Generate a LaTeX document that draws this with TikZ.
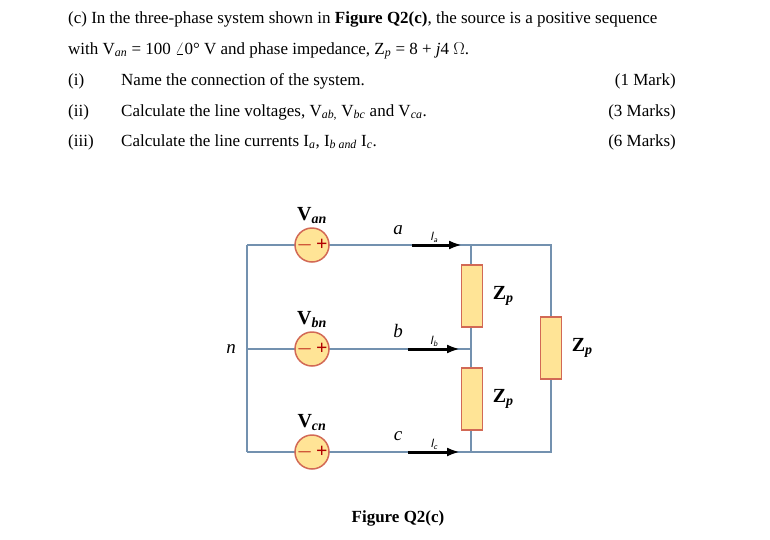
\documentclass[tikz,border=0pt]{standalone}
\usepackage{fontspec}
\setmainfont{Liberation Serif}
\usetikzlibrary{positioning, arrows.meta}
\definecolor{wire}{RGB}{115,145,175}
\definecolor{srcfill}{RGB}{255,228,150}
\definecolor{srcdraw}{RGB}{210,105,85}
\tikzset{
  txt/.style={anchor=base west, inner sep=0pt, font=\fontsize{17}{20}\selectfont},
  marks/.style={anchor=base east, inner sep=0pt, font=\fontsize{17}{20}\selectfont},
  source/.style={circle, draw=srcdraw, fill=srcfill, line width=1.5pt, minimum size=34pt, inner sep=0pt, font=\bfseries\fontsize{20}{20}\selectfont, text=red!70!black},
  imp/.style={rectangle, draw=srcdraw, fill=srcfill, line width=1.5pt, minimum width=21pt, minimum height=62pt, inner sep=0pt},
  line/.style={draw=wire, line width=1.6pt},
  current/.style={-{Latex[length=13pt,width=9pt]}, line width=3pt, black},
  vlabel/.style={font=\bfseries\fontsize{20}{20}\selectfont},
  ilabel/.style={font=\sffamily\itshape\fontsize{12}{12}\selectfont},
  nlabel/.style={font=\itshape\fontsize{19}{19}\selectfont}
}
\begin{document}
\begin{tikzpicture}[x=1pt, y=-1pt]
\useasboundingbox (0,0) rectangle (770,539);
% question text
\node[txt] (q1) at (68,23) {(c) In the three-phase system shown in \textbf{Figure Q2(c)}, the source is a positive sequence};
\node[txt] (q2) at (68,54) {with V\textsubscript{\textit{an}} = 100 $\angle$0° V and phase impedance, Z\textsubscript{\textit{p}} = 8 + \textit{j}4 $\Omega$.};
\node[txt] (i1) at (68,85) {(i)};
\node[txt] (t1) at (121,85) {Name the connection of the system.};
\node[marks] (m1) at (676,85) {(1 Mark)};
\node[txt] (i2) at (68,116) {(ii)};
\node[txt] (t2) at (121,116) {Calculate the line voltages, V\textsubscript{\textit{ab},} V\textsubscript{\textit{bc}} and V\textsubscript{\textit{ca}}.};
\node[marks] (m2) at (676,116) {(3 Marks)};
\node[txt] (i3) at (68,146) {(iii)};
\node[txt] (t3) at (121,146) {Calculate the line currents I\textsubscript{\textit{a}}, I\textsubscript{\textit{b and}} I\textsubscript{\textit{c}}.};
\node[marks] (m3) at (676,146) {(6 Marks)};

% circuit corners
\coordinate (na) at (247,245);
\coordinate (nb) at (247,349);
\coordinate (nc) at (247,452);
\coordinate (ja) at (471,245);
\coordinate (jb) at (471,349);
\coordinate (jc) at (471,452);
\coordinate (ra) at (551,245);
\coordinate (rc) at (551,452);

% wires behind the parts
\draw[line] (na) -- (nc);
\draw[line] (na) -- (ra) -- (rc) -- (nc);
\draw[line] (nb) -- (jb);
\draw[line] (ja) -- (jc);

% sources
\node[source] (sa) at (312,245) {$-$\,+};
\node[source] (sb) at (312,349) {$-$\,+};
\node[source] (sc) at (312,452) {$-$\,+};
\node[vlabel, above=0pt of sa] (van) {V\textsubscript{\textit{an}}};
\node[vlabel, above=0pt of sb] (vbn) {V\textsubscript{\textit{bn}}};
\node[vlabel, above=0pt of sc] (vcn) {V\textsubscript{\textit{cn}}};
\node[nlabel] (n) at (231,349) {n};

% impedances
\node[imp] (zab) at (472,296) {};
\node[imp] (zbc) at (472,399) {};
\node[imp] (zca) at (551,348) {};
\node[vlabel, right=6pt of zab] {Z\textsubscript{\textit{p}}};
\node[vlabel, right=6pt of zbc] {Z\textsubscript{\textit{p}}};
\node[vlabel, right=6pt of zca] {Z\textsubscript{\textit{p}}};

% line currents
\coordinate (ia0) at (412,245); \coordinate (ia1) at (462,245);
\coordinate (ib0) at (408,349); \coordinate (ib1) at (460,349);
\coordinate (ic0) at (408,452); \coordinate (ic1) at (460,452);
\draw[current] (ia0) -- (ia1);
\draw[current] (ib0) -- (ib1);
\draw[current] (ic0) -- (ic1);
\node[nlabel] (la) at (398,230) {a};
\node[nlabel] (lb) at (398,331) {b};
\node[nlabel] (lc) at (398,436) {c};
\node[ilabel] (ia) at (434,237) {I\textsubscript{a}};
\node[ilabel] (ib) at (434,341) {I\textsubscript{b}};
\node[ilabel] (ic) at (434,444) {I\textsubscript{c}};

\node[font=\bfseries\fontsize{17}{20}\selectfont] (cap) at (398,518) {Figure Q2(c)};
\end{tikzpicture}
\end{document}
